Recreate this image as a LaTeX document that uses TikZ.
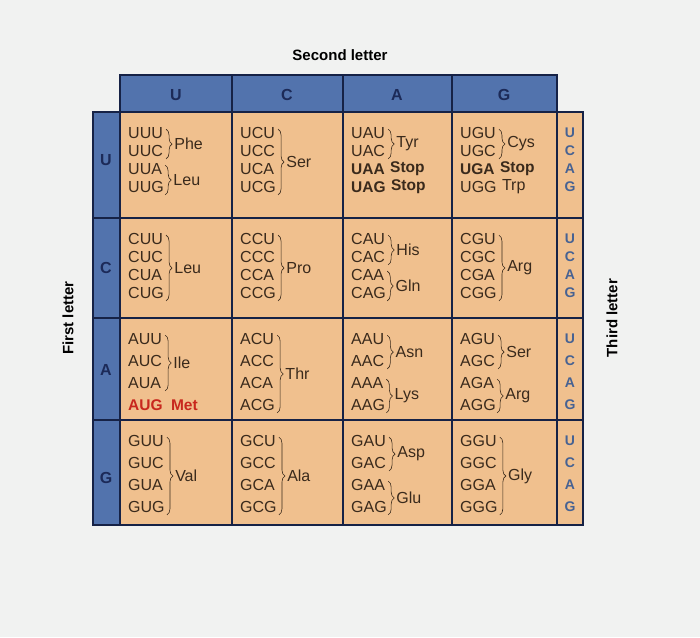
\documentclass[tikz,border=0pt]{standalone}
\usepackage{fontspec}
\setmainfont{Liberation Sans}
\usetikzlibrary{decorations.pathreplacing,positioning}
\definecolor{bg}{HTML}{F1F2F1}
\definecolor{hdr}{HTML}{5273AD}
\definecolor{navy}{HTML}{1C2A58}
\definecolor{peach}{HTML}{F0C08E}
\definecolor{ink}{HTML}{3A2A1C}
\definecolor{met}{HTML}{C8281E}
\tikzset{
 cod/.style={anchor=west,inner sep=0pt,text=ink,font=\fontsize{16}{18}\selectfont},
 bold/.style={font=\fontsize{15.5}{18}\selectfont\bfseries},
 extra UAA/.style={bold}, extra UAG/.style={bold}, extra UGA/.style={bold},
 extra AUG/.style={bold,text=met},
 brc/.style={draw=ink,semithick,decorate,decoration={brace,amplitude=6pt}},
 aa/.style={anchor=west,inner sep=0pt,text=ink,font=\fontsize{16}{18}\selectfont},
 hd/.style={text=navy,font=\fontsize{16}{18}\selectfont\bfseries},
 tl/.style={text=hdr!85!black,font=\fontsize{14}{16}\selectfont\bfseries},
 grid/.style={draw=navy!80!black,line width=1.2pt},
 ttl/.style={text=black,font=\fontsize{15}{17}\selectfont\bfseries}
}
\newcommand\brc[3]{\draw[brc] ([shift={(3pt,-2pt)}]#1.north east) -- ([shift={(3pt,-2pt)}]#1.north east |- #2.south east) node[aa,midway,xshift=8pt] (aa#1) {#3};}
\begin{document}
\begin{tikzpicture}[x=1pt,y=-1pt]
\fill[bg] (0,0) rectangle (700,637);
\useasboundingbox (0,0) rectangle (700,637);
% table
\fill[hdr] (120,75) rectangle (557,112);
\fill[hdr] (93,112) rectangle (120,525);
\fill[peach] (120,112) rectangle (583,525);
\draw[grid] (120,75) rectangle (557,112);
\draw[grid] (93,112) rectangle (583,525);
\foreach \x in {120,232,343,452,557} \draw[grid] (\x,75) -- (\x,525);
\foreach \y in {218,318,420} \draw[grid] (93,\y) -- (583,\y);
% headers
\node[ttl] (t2) at (340,55) {Second letter};
\node[ttl,rotate=90] (t1) at (68,318) {First letter};
\node[ttl,rotate=90] (t3) at (612,318) {Third letter};
\foreach \c/\cx in {U/176,C/287,A/397,G/504} \node[hd] (h\c) at (\cx,95) {\c};
\foreach \r/\ry in {U/160,C/268,A/370,G/478} \node[hd] (f\r) at (106,\ry) {\r};
% codons
\foreach \r/\ry/\dy in {U/112/18/,C/218/18,A/318/22,G/420/22}{
 \foreach \c/\cx in {U/120,C/232,A/343,G/452}{
  \foreach \t [count=\k] in {U,C,A,G}{
   \node[cod,extra \r\c\t/.try] (\r\c\t) at (\cx+8,{\ry+21+(\k-1)*\dy}) {\r\c\t};
  }}
 \foreach \t [count=\k] in {U,C,A,G} \node[tl] (th\r\t) at (570,{\ry+21+(\k-1)*\dy}) {\t};
}
% braces and amino acids
\brc{UUU}{UUC}{Phe} \brc{UUA}{UUG}{Leu}
\brc{UCU}{UCG}{Ser}
\brc{UAU}{UAC}{Tyr}
\node[cod,bold,right=5pt of UAA] (s1) {Stop};
\node[cod,bold,right=5pt of UAG] (s2) {Stop};
\brc{UGU}{UGC}{Cys}
\node[cod,bold,right=5pt of UGA] (s3) {Stop};
\node[cod,right=5pt of UGG] (trp) {Trp};
\brc{CUU}{CUG}{Leu} \brc{CCU}{CCG}{Pro}
\brc{CAU}{CAC}{His} \brc{CAA}{CAG}{Gln}
\brc{CGU}{CGG}{Arg}
\brc{AUU}{AUA}{Ile}
\node[cod,bold,text=met,right=8pt of AUG] (met) {Met};
\brc{ACU}{ACG}{Thr}
\brc{AAU}{AAC}{Asn} \brc{AAA}{AAG}{Lys}
\brc{AGU}{AGC}{Ser} \brc{AGA}{AGG}{Arg}
\brc{GUU}{GUG}{Val} \brc{GCU}{GCG}{Ala}
\brc{GAU}{GAC}{Asp} \brc{GAA}{GAG}{Glu}
\brc{GGU}{GGG}{Gly}
\end{tikzpicture}
\end{document}
